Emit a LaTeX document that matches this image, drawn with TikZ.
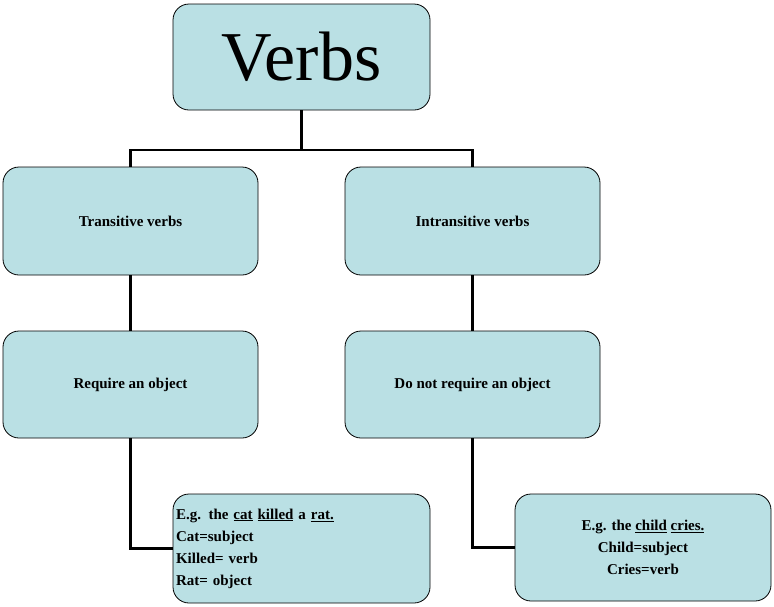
\documentclass[tikz,border=0pt]{standalone}
\usepackage{fontspec}
\setmainfont{Liberation Serif}
\newcommand{\ul}[1]{\underline{#1}}
\begin{document}
\begin{tikzpicture}[x=1pt,y=-1pt,
  box/.style={draw=black,line width=0.8pt,fill=boxfill,rounded corners=16pt,inner sep=0pt},
  conn/.style={line width=2.4pt}]
\definecolor{boxfill}{RGB}{186,224,228}
\useasboundingbox (0,0) rectangle (774,606);
\node[box,minimum width=257pt,minimum height=106pt] (verbs) at (301.5,57) {\fontsize{70}{70}\selectfont Verbs};
\node[box,minimum width=255pt,minimum height=108pt,font=\bfseries\fontsize{15}{18}\selectfont] (trans) at (130.5,221) {Transitive verbs};
\node[box,minimum width=255pt,minimum height=108pt,font=\bfseries\fontsize{15}{18}\selectfont] (intr) at (472.5,221) {Intransitive verbs};
\node[box,minimum width=255pt,minimum height=107pt,font=\bfseries\fontsize{15}{18}\selectfont] (req) at (130.5,384.5) {Require an object};
\node[box,minimum width=255pt,minimum height=107pt,font=\bfseries\fontsize{15}{18}\selectfont] (noreq) at (472.5,384.5) {Do not require an object};
\node[box,minimum width=257pt,minimum height=109pt,font=\bfseries\fontsize{15}{22}\selectfont,align=left,text width=251pt] (ex1) at (301.5,548.5) {E.g. the \ul{cat} \ul{killed} a \ul{rat.}\\Cat=subject\\Killed= verb\\Rat= object};
\node[box,minimum width=256pt,minimum height=107pt,font=\bfseries\fontsize{15}{22}\selectfont,align=center] (ex2) at (643,547.5) {E.g. the \ul{child} \ul{cries.}\\Child=subject\\Cries=verb};
\coordinate (bus) at (0,150);
\draw[conn] (verbs.south) -- (verbs.south |- bus);
\draw[conn] (trans.north) |- (verbs.south |- bus) -| (intr.north);
\draw[conn] (trans) -- (req);
\draw[conn] (intr) -- (noreq);
\draw[conn] (req.south) |- (ex1.west);
\draw[conn] (noreq.south) |- (ex2.west);
\end{tikzpicture}
\end{document}
